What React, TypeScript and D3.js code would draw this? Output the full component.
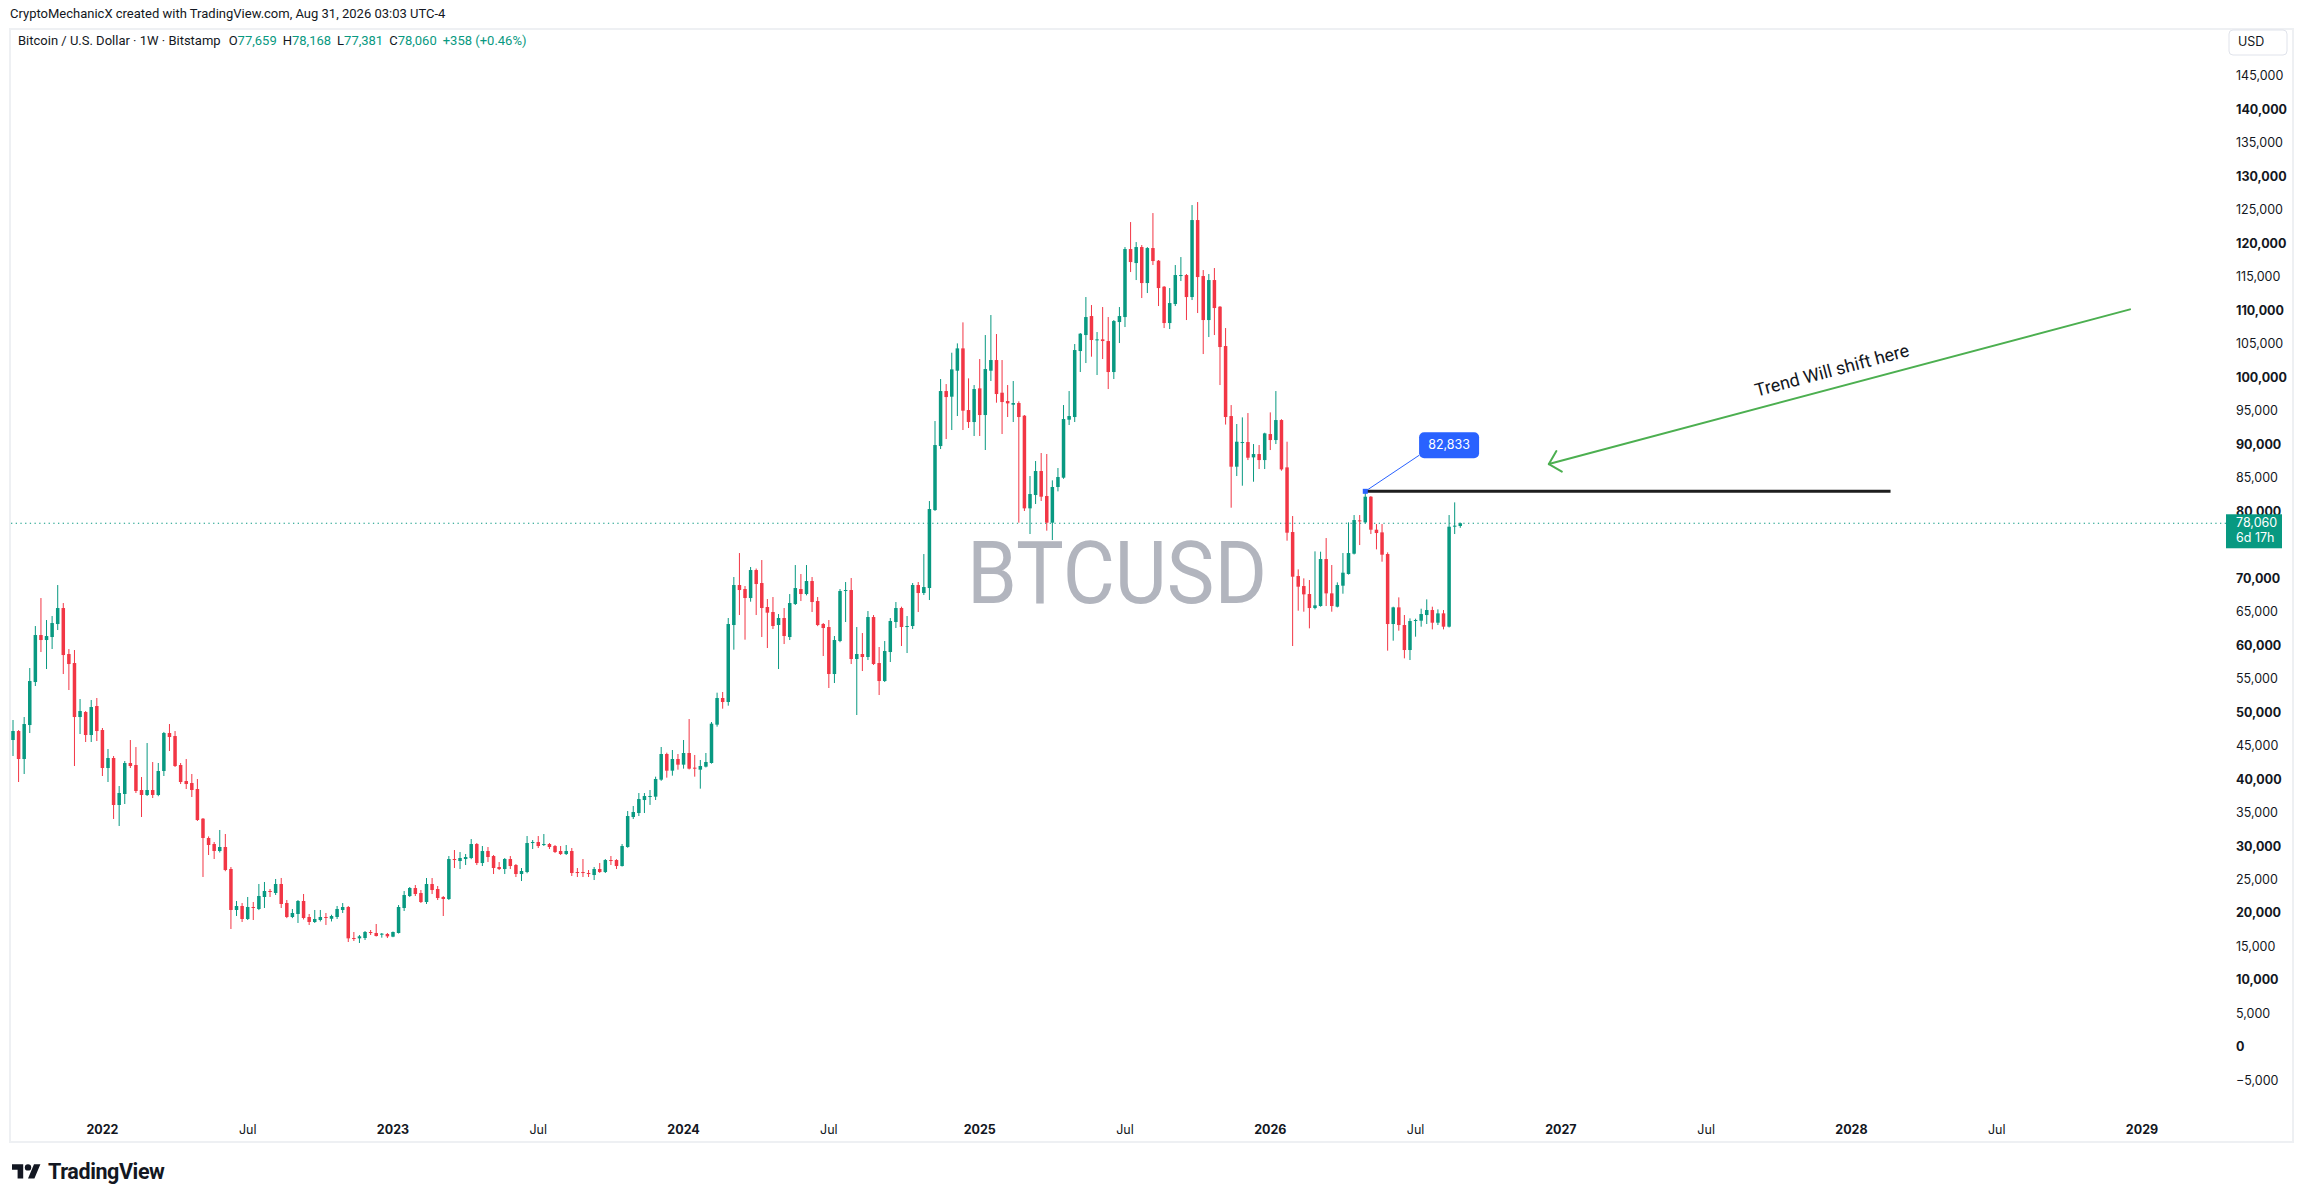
import React from "react";
import * as d3 from "d3";

// ---- weekly BTCUSD candles (Bitstamp, 1W), first week starts 2021-09-13 ----
const firstWeek = "2021-09-13";

const opens = [
  45694,47038,42857,47934,54354,61372,60626,61073,63014,65403,58535,57191,49128,49875,46441,50771,47187,41514,43007,35990,
  37632,42260,41962,38229,37483,38229,37483,41066,46739,46291,41962,39572,39273,38378,33948,31062,30166,29121,29719,26433,
  20312,20909,18968,20760,20462,22253,23149,22850,24194,21357,19267,19715,21656,19267,18520,18819,19267,19000,19267,
  20309,20757,16128,16079,16128,17024,16875,16626,16726,16327,16875,20607,22399,23594,22847,21503,24191,23444,22249,21950,
  27924,27625,27924,28073,30163,27326,29118,28371,26729,26430,27924,27028,25684,25983,30313,30462,30014,30163,29864,29118,
  28670,29118,25983,25983,25833,25535,26430,25983,27774,27774,26878,29715,34194,34792,36733,37235,
  37235,39774,43606,41117,42860,42014,43755,41565,41266,41715,42263,47986,51967,51370,62866,68839,68242,66898,71078,69138,
  65554,64808,62866,63912,61074,66002,68242,67494,69436,66449,63016,62568,55550,60477,67992,68092,57789,58536,58088,64060,
  57192,54504,58835,63315,65405,62568,62717,68839,67644,68391,80037,89592,97805,
  96962,100844,104178,94971,93179,98206,94224,100844,102436,97558,96314,95767,96016,94125,80289,82279,85863,82130,78149,83474,
  84867,93527,93926,103780,106169,109006,105423,105522,105273,100645,108110,108857,119010,116919,119308,113933,119159,117268,113386,107961,
  110798,114979,115128,111843,123340,114979,108408,114381,110399,
  104527,94072,86507,90090,90190,87900,88398,87499,91384,90489,93475,86407,76752,70182,68689,67495,65404,65703,72721,67594,
  65603,68739,70481,73517,78494,78195,82027,77100,76702,73467,63015,65504,62866,59134,63513,63513,64359,65105,63214,64608,
  62617,77648,77659,
];

const highs = [
  48681,47187,49128,56445,62715,66896,63612,64209,68837,66150,59282,59132,51816,50024,51667,51966,47486,44351,43305,38826,
  42558,45694,44649,40170,45246,42409,42260,46900,48083,47038,42260,42857,40618,39871,34048,31300,30465,32258,31660,26731,
  21656,21357,22253,21506,24194,24493,23448,24941,25090,21805,20462,21800,22701,19715,20312,20312,19864,19600,20909,
  21354,20906,17024,16576,17174,17323,18219,16875,16875,17100,21055,23146,23743,24042,23295,25087,25087,23892,22399,28371,
  29267,28969,28670,30910,30313,29864,29715,28521,27475,28073,28371,27177,26580,31358,30761,31358,31656,30313,30014,29864,
  30014,29566,26580,27924,26281,26729,27326,27924,28371,27900,30163,35090,35837,37778,37778,38230,
  40222,44651,43800,44203,43606,45695,48830,43457,42711,43755,48384,52764,52863,63912,70033,73616,68689,71526,71300,72571,
  66748,67047,64508,65405,67494,71824,70481,71824,70033,67047,63165,63613,61223,68242,69287,69884,62568,61672,64956,64359,
  59581,60477,63912,66300,65600,64209,69138,69287,73467,81381,93325,99600,98850,
  103531,104925,108060,99699,98703,102586,106169,109155,106318,102436,98703,99301,96264,94224,85116,87356,88551,88402,84469,86311,
  95717,97807,104825,106467,111843,110648,106617,110349,108857,108408,110349,119308,123041,120055,119607,119300,124385,117367,113485,113187,
  116621,117815,115277,125580,126027,115874,115277,116173,110499,
  107214,95714,92881,93873,94520,89891,89742,91583,94619,97805,93600,90240,79140,71178,69834,69585,73866,73816,75856,71825,
  69237,73616,78195,79290,79290,82833,82127,77946,77946,73716,65600,66997,64359,63861,63811,65304,66698,65603,65205,65105,
  79290,81181,78168,
];

const lows = [
  43305,39423,40618,46739,53757,58834,56296,59282,62119,55549,53160,41812,46590,45396,45396,45545,40319,39423,33900,32855,
  36139,41514,37781,34198,37333,37035,37300,40319,44052,41663,39124,38378,37184,33600,25239,28524,27926,28900,26100,17475,
  19416,18520,18819,18819,20300,20611,22253,22552,20611,19100,19100,18371,18900,18072,18371,18600,18072,18600,18968,
  19861,15531,15680,15382,15830,16576,16350,16178,16128,16250,16800,20160,22249,22399,21354,21205,22698,21802,19413,21802,
  26580,26430,27028,27900,27028,26878,27475,25684,26281,25684,26430,25236,24638,25800,29417,29566,29864,29417,28819,28521,
  28521,25386,25236,25236,25236,24788,25850,25833,27028,26430,26800,29600,33896,34344,34792,36000,
  36737,39600,40072,40371,41266,41416,41300,40222,38430,41600,42163,47687,50375,50822,59183,64359,60677,66350,64359,61074,
  59432,62269,56296,60029,60626,65852,66449,67300,64807,62700,58237,53460,54206,60300,63315,57043,49428,55997,57640,56900,
  52414,54355,57341,62418,59730,58685,62269,64807,67345,66599,79900,89145,90638,
  91985,94075,91985,92283,91088,91088,89000,99301,96065,91387,93926,93179,78149,79891,76457,80936,81384,76954,75560,82827,
  84700,92731,93179,100645,101988,102934,100197,102586,98106,99600,104975,107363,115576,114381,111694,112440,116621,110499,107214,107065,
  110499,114232,108408,111395,109454,103332,105871,106169,98703,
  92800,80385,85117,83670,87499,84267,86158,86158,88995,89891,85910,75458,59731,65006,64856,62368,65205,65600,65703,64856,
  65500,67544,70400,73400,74811,78046,76453,74164,72323,59034,60527,62020,57889,57640,61124,62617,63015,62219,62866,62219,
  62500,76453,77381,
];

const closes = [
  47038,42857,48083,54504,61372,60626,61222,63164,65403,58386,57042,49128,50024,46441,50622,47038,41514,43007,35990,37781,
  42260,41812,38080,37483,38229,37483,41066,46739,46142,41812,39423,39124,38229,33749,31062,30017,29121,29719,26284,20312,
  20909,18968,20760,20611,22403,23149,23000,24194,21207,19267,19864,21656,19118,18520,18968,19267,19118,19410,20462,
  20757,16079,16079,16378,17024,16875,16427,16775,16378,17024,20757,22548,23594,22698,21503,24191,23295,22100,21950,27924,
  27774,28073,28222,30163,27326,29118,28222,26580,26430,27924,26878,25684,26132,30313,30462,29864,30163,29715,28969,28670,
  29118,25833,25833,25833,25684,26430,25983,27774,27625,26878,29864,34344,34941,36882,37330,37334,
  39873,43606,41117,42860,42014,43755,41416,41416,41814,42412,48135,51967,51370,63016,68839,68092,66898,71078,68988,65405,
  64708,62717,63912,61223,66151,68391,67494,69436,66300,62866,62418,55550,60626,67943,68092,57789,58536,58088,64060,57043,
  54504,58984,63464,65405,62568,62717,68839,67644,68540,80186,89742,97805,96909,
  101043,104178,94872,93179,98106,94224,101092,102436,97359,96165,95966,96016,93926,80289,82428,85863,82030,78149,83474,84967,
  93627,94075,103929,106368,108857,105423,105522,105273,100645,108259,109006,119010,117069,119308,113933,119159,117218,113187,107961,110947,
  115128,115128,111843,123340,114829,108408,114381,110200,104378,
  93926,86507,90240,90190,87850,88398,87499,91484,90489,93475,86108,76652,70083,68590,67445,65404,65803,72721,67594,65703,
  68839,70680,73616,78544,78394,82027,77100,76602,73368,63015,65504,62866,59134,63463,63612,64508,65105,63214,64608,62617,
  77548,77702,78060,
];

// ---- axes ----
const priceTicks = d3.range(-5000, 150000, 5000);
const yearLabels = [2022, 2023, 2024, 2025, 2026, 2027, 2028, 2029];
const midYearLabel = "Jul";
const countdownText = "6d 17h";

// ---- annotations (data space) ----
const markedHighIndex = 242;          // week with the 82,833 high
const levelPrice = 82833;
const levelEnd = "2028-02-21";
const calloutAnchor = { date: "2026-08-17", price: 89700 };
const arrowFrom = { date: "2028-12-17", price: 110000 };
const arrowTo = { date: "2026-12-20", price: 86900 };
const arrowText = "Trend Will shift here";
const arrowTextAt = { date: "2027-12-10", price: 100700 };

const UP = "#089981";
const DOWN = "#F23645";
const INK = "#131722";

const W = 2303;
const H = 1203;

const pd = (s: string) => new Date(s + "T00:00:00Z");

export default function App() {
  const t0 = pd(firstWeek);
  const dates = opens.map((_, i) => new Date(t0.getTime() + i * 7 * 86400000));

  const x = d3.scaleUtc().domain([t0, pd("2029-01-01")]).range([13, 2142]);
  const y = d3.scaleLinear().domain([-5000, 145000]).range([1079.5, 75]);

  const fmt = d3.format(",");
  const n = closes.length;
  const last = n - 1;
  const change = closes[last] - closes[last - 1];
  const pct = (change / closes[last - 1]) * 100;

  const timeTicks: { d: Date; label: string; bold: boolean }[] = [];
  yearLabels.forEach((yr) => {
    timeTicks.push({ d: d3.utcMonday.ceil(new Date(Date.UTC(yr, 0, 1))), label: String(yr), bold: true });
    if (yr < 2029)
      timeTicks.push({ d: d3.utcMonday.ceil(new Date(Date.UTC(yr, 6, 1))), label: midYearLabel, bold: false });
  });

  const bw = 3.5;

  // annotation geometry
  const dotX = x(dates[markedHighIndex]);
  const dotY = y(levelPrice);
  const lvlX2 = x(pd(levelEnd));
  const cbX = x(pd(calloutAnchor.date));
  const cbY = y(calloutAnchor.price);
  const ax1 = x(pd(arrowFrom.date)), ay1 = y(arrowFrom.price);
  const ax2 = x(pd(arrowTo.date)), ay2 = y(arrowTo.price);
  const ang = Math.atan2(ay1 - ay2, ax1 - ax2);
  const arm = 15;
  const armA = ang - Math.PI / 4, armB = ang + Math.PI / 4;
  const angDeg = (ang * 180) / Math.PI;
  const tX = x(pd(arrowTextAt.date)), tY = y(arrowTextAt.price);

  const lastY = y(closes[last]);
  const boxTop = lastY - 9;
  const boxH = 34;
  // price labels hidden behind the last-price label (as the platform does)
  const visibleTicks = priceTicks.filter((v) => {
    const ty = y(v) + 2;
    return !(ty > boxTop + 4 && ty < boxTop + boxH + 4);
  });

  const axisFont = "Inter, 'Noto Sans', sans-serif";
  const uiFont = "Roboto, 'Noto Sans', sans-serif";

  return (
    <svg width={W} height={H} style={{ position: "absolute", left: 0, top: 0, background: "#fff" }}
      xmlns="http://www.w3.org/2000/svg">
      <rect x={0} y={0} width={W} height={H} fill="#fff" />
      {/* header */}
      <text x={10} y={15} fontFamily={uiFont} fontSize={13} fill={INK} dominantBaseline="middle">
        CryptoMechanicX created with TradingView.com, Aug 31, 2026 03:03 UTC-4
      </text>
      {/* pane */}
      <rect x={10} y={29} width={2283} height={1113} fill="#fff" stroke="#eef0f3" strokeWidth={2} />

      {/* watermark */}
      <text x={1117} y={580} textAnchor="middle" dominantBaseline="middle" fontFamily={uiFont}
        fontSize={88} fill="#b2b5be" textLength={300} lengthAdjust="spacingAndGlyphs">BTCUSD</text>

      {/* legend */}
      <text x={18} y={42} fontFamily={uiFont} fontSize={13} fill={INK} dominantBaseline="middle">
        Bitcoin / U.S. Dollar · 1W · Bitstamp
        <tspan dx={8}>O</tspan><tspan fill={UP}>{fmt(opens[last])}</tspan>
        <tspan dx={6}>H</tspan><tspan fill={UP}>{fmt(highs[last])}</tspan>
        <tspan dx={6}>L</tspan><tspan fill={UP}>{fmt(lows[last])}</tspan>
        <tspan dx={6}>C</tspan><tspan fill={UP}>{fmt(closes[last])}</tspan>
        <tspan dx={6} fill={UP}>{(change >= 0 ? "+" : "") + fmt(change) + " (" + (change >= 0 ? "+" : "") + pct.toFixed(2) + "%)"}</tspan>
      </text>

      {/* last price line */}
      <line x1={11} x2={2226} y1={lastY} y2={lastY} stroke={UP} strokeWidth={1.2} strokeDasharray="1.3 3.4" />

      {/* candles */}
      <g>
        {dates.map((d, i) => {
          const o = opens[i], c = closes[i];
          const col = c >= o ? UP : DOWN;
          const cx = x(d);
          const top = y(Math.max(o, c));
          const bot = y(Math.min(o, c));
          return (
            <g key={i}>
              <line x1={cx} x2={cx} y1={y(highs[i])} y2={y(lows[i])} stroke={col} strokeWidth={1} />
              <rect x={cx - bw / 2} y={top} width={bw} height={Math.max(1, bot - top)} fill={col} />
            </g>
          );
        })}
      </g>

      {/* horizontal level */}
      <line x1={dotX} x2={lvlX2} y1={dotY} y2={dotY} stroke="#1e1e1e" strokeWidth={3} />
      {/* callout */}
      <line x1={dotX} y1={dotY} x2={cbX - 30} y2={cbY + 10} stroke="#2962ff" strokeWidth={1} />
      <rect x={dotX - 2.5} y={dotY - 2.5} width={5} height={5} fill="#2962ff" />
      <rect x={cbX - 30} y={cbY - 13} width={60} height={26} rx={5} fill="#2962ff" />
      <text x={cbX} y={cbY + 0.5} textAnchor="middle" dominantBaseline="middle" fontFamily={axisFont}
        fontSize={12.5} fill="#fff">{fmt(levelPrice)}</text>

      {/* green arrow */}
      <g stroke="#4caf50" strokeWidth={2} strokeLinecap="round" fill="none">
        <line x1={ax1} y1={ay1} x2={ax2} y2={ay2} />
        <line x1={ax2} y1={ay2} x2={ax2 + arm * Math.cos(armA)} y2={ay2 + arm * Math.sin(armA)} />
        <line x1={ax2} y1={ay2} x2={ax2 + arm * Math.cos(armB)} y2={ay2 + arm * Math.sin(armB)} />
      </g>
      <text x={tX} y={tY} textAnchor="middle" dominantBaseline="middle" fontFamily={uiFont} fontSize={18}
        fill={INK} transform={`rotate(${angDeg} ${tX} ${tY})`}>{arrowText}</text>

      {/* price axis */}
      <g fontFamily={axisFont} fontSize={12.5} fill={INK}>
        {visibleTicks.map((v) => (
          <text key={v} x={2236} y={y(v) + 2} dominantBaseline="middle" fontWeight={v % 10000 === 0 ? 700 : 400}>
            {fmt(v)}
          </text>
        ))}
      </g>
      <rect x={2229} y={30} width={58} height={25} rx={4} fill="#fff" stroke="#e0e3eb" />
      <text x={2238} y={43} dominantBaseline="middle" fontFamily={axisFont} fontSize={12.5} fill={INK}>USD</text>

      {/* last price label */}
      <rect x={2226} y={boxTop} width={56} height={boxH} fill={UP} />
      <text x={2236} y={lastY + 0.5} dominantBaseline="middle" fontFamily={axisFont} fontSize={12.5} fill="#fff">
        {fmt(closes[last])}
      </text>
      <text x={2236} y={lastY + 15} dominantBaseline="middle" fontFamily={axisFont} fontSize={12.5} fill="#fff">
        {countdownText}
      </text>

      {/* time axis */}
      <g fontFamily={axisFont} fontSize={12.5} fill={INK} textAnchor="middle">
        {timeTicks.map((t, i) => (
          <text key={i} x={x(t.d)} y={1131} dominantBaseline="middle" fontWeight={t.bold ? 700 : 400}>
            {t.label}
          </text>
        ))}
      </g>

      {/* TradingView logo */}
      <g transform="translate(12,1161) scale(0.8)" fill={INK}>
        <path d="M14 22H7V11H0V4h14v18zM28 22h-8l7.5-18h8L28 22z" />
        <circle cx={20} cy={8} r={4} />
      </g>
      <text x={48} y={1173} dominantBaseline="middle" fontFamily={uiFont} fontSize={21.5} fontWeight={700}
        fill={INK} letterSpacing={-0.4}>TradingView</text>
    </svg>
  );
}
